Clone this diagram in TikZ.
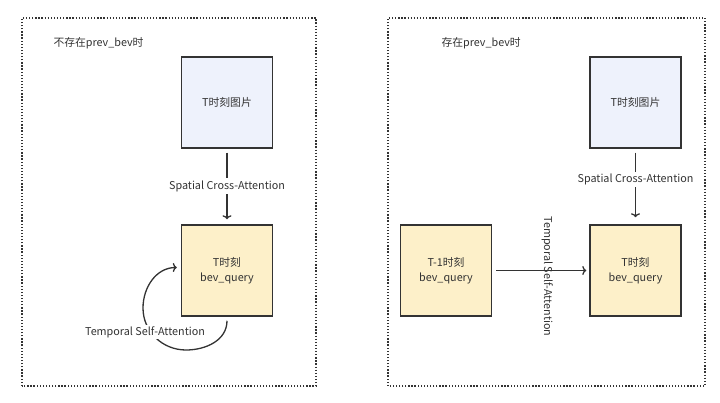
\documentclass[tikz,border=0pt]{standalone}
\usepackage{fontspec}
\setmainfont{Noto Sans CJK SC}
\usetikzlibrary{arrows.meta}
\definecolor{ink}{HTML}{333333}
\definecolor{imgfill}{HTML}{EEF2FC}
\definecolor{qfill}{HTML}{FDF0C9}

\begin{document}
\begin{tikzpicture}[x=1pt,y=1pt,
  every node/.style={text=ink,font=\fontsize{10.8}{15}\selectfont},
  box/.style={draw=ink,line width=1.5pt,minimum width=91pt,minimum height=91pt,align=center},
  imgbox/.style={box,fill=imgfill},
  qbox/.style={box,fill=qfill},
  frame/.style={draw=ink,line width=1.3pt,dash pattern=on 1.3pt off 1.8pt},
  arr/.style={draw=ink,line width=1.3pt,-{To[length=4pt,width=9pt]}}]
\useasboundingbox (0,0) rectangle (720,402);
% left panel
\draw [frame] (22,16) rectangle (316,384);
\node [anchor=west] (titleA) at (50,359) {不存在prev\_bev时};
\node [imgbox] (imgA) at (227,299.5) {T时刻图片};
\node [qbox] (qA) at (227,131.5) {T时刻\\bev\_query};
\draw [arr] ([yshift=-4pt]imgA.south) -- node [fill=white,inner sep=2pt] (scaA) {Spatial Cross-Attention} ([yshift=5pt]qA.north);
\coordinate (loopA) at (186,52);
\coordinate (loopB) at (143,94);
\draw [arr] ([yshift=-4pt]qA.south) to[out=-90,in=0] (loopA) to[out=180,in=-90] (loopB) to[out=90,in=180] ([xshift=-4pt,yshift=3pt]qA.west);
\node [fill=white,inner sep=1pt] (tsaA) at (145,70) {Temporal Self-Attention};
% right panel
\draw [frame] (388,16) rectangle (705,384);
\node [anchor=west] (titleB) at (438,359) {存在prev\_bev时};
\node [imgbox] (imgB) at (635.5,299.5) {T时刻图片};
\node [qbox] (qB) at (635.5,131.5) {T时刻\\bev\_query};
\node [qbox] (qP) at (446,131.5) {T-1时刻\\bev\_query};
\draw [arr] ([yshift=-4pt]imgB.south) -- node [pos=0.42,fill=white,inner sep=2pt] (scaB) {Spatial Cross-Attention} ([yshift=7pt]qB.north);
\draw [arr] ([xshift=4pt]qP.east) -- node [rotate=-90,xshift=6pt,yshift=6pt] (tsaB) {Temporal Self-Attention} ([xshift=-3pt]qB.west);
\end{tikzpicture}
\end{document}
